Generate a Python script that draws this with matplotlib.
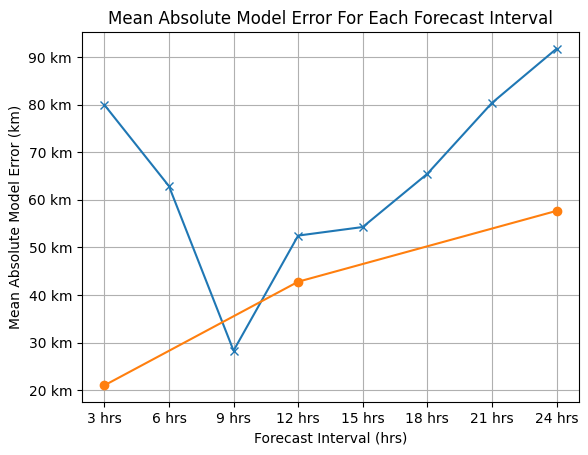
import matplotlib

matplotlib.use("Agg")

import matplotlib.pyplot as plt
from matplotlib.ticker import FuncFormatter


INTERVALS = ["3 hrs", "6 hrs", "9 hrs", "12 hrs", "15 hrs", "18 hrs", "21 hrs", "24 hrs"]
MODEL_ERROR = [80.0, 62.9, 28.3, 52.5, 54.3, 65.5, 80.4, 91.8]

BASELINE_INTERVALS = ["3 hrs", "12 hrs", "24 hrs"]
BASELINE_ERROR = [21.0, 42.8, 57.7]


def main():
    fig, ax = plt.subplots(figsize=(5.88, 4.55), dpi=100)

    ax.plot(INTERVALS, MODEL_ERROR, marker="x", color="#1f77b4")
    ax.plot(BASELINE_INTERVALS, BASELINE_ERROR, marker="o", color="#ff7f0e")

    ax.yaxis.set_major_formatter(FuncFormatter(lambda v, _: f"{v:.0f} km"))
    ax.set_title("Mean Absolute Model Error For Each Forecast Interval")
    ax.set_xlabel("Forecast Interval (hrs)")
    ax.set_ylabel("Mean Absolute Model Error (km)")
    ax.grid(True)

    fig.subplots_adjust(left=0.139, right=0.985, top=0.930, bottom=0.116)
    plt.savefig("out.png", dpi=100)
    plt.close()


if __name__ == "__main__":
    main()
